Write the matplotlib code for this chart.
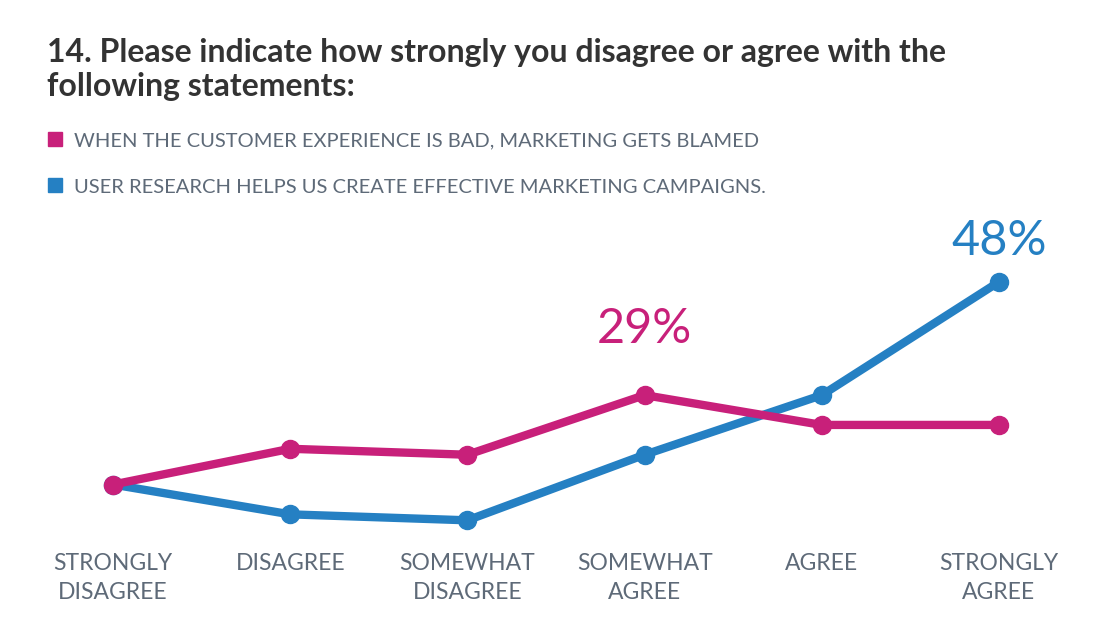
import matplotlib
matplotlib.use("Agg")
import matplotlib.pyplot as plt
from matplotlib.lines import Line2D

categories = ["STRONGLY\nDISAGREE", "DISAGREE", "SOMEWHAT\nDISAGREE",
              "SOMEWHAT\nAGREE", "AGREE", "STRONGLY\nAGREE"]
blamed = [14, 20, 19, 29, 24, 24]
research = [14, 9, 8, 19, 29, 48]
series_names = ["WHEN THE CUSTOMER EXPERIENCE IS BAD, MARKETING GETS BLAMED",
                "USER RESEARCH HELPS US CREATE EFFECTIVE MARKETING CAMPAIGNS."]

PINK = "#C8207A"
BLUE = "#2580C3"
GREY = "#5E6A78"
DARK = "#333333"

plt.rcParams["font.family"] = ["Lato", "DejaVu Sans"]

fig = plt.figure(figsize=(11.2, 6.34), dpi=100)
ax = fig.add_axes([113 / 1120, 66 / 634, 886 / 1120, 338 / 634])

x = list(range(len(categories)))
ax.plot(x, research, color=BLUE, lw=6, marker="o", ms=13, clip_on=False,
        solid_capstyle="round", zorder=3)
ax.plot(x, blamed, color=PINK, lw=6, marker="o", ms=13, clip_on=False,
        solid_capstyle="round", zorder=4)

ax.set_xlim(0, len(categories) - 1)
ax.set_ylim(0, 56.7)
ax.axis("off")

for i, lab in enumerate(categories):
    ax.annotate(lab, (i, 0), xytext=(0, 15), textcoords="offset pixels",
                ha="center", va="top", fontsize=16.5, color=GREY, linespacing=1.45)

# callouts on the highlighted points
i_pink = blamed.index(max(blamed))
i_blue = research.index(max(research))
ax.annotate(f"{blamed[i_pink]}%", (i_pink, blamed[i_pink]), xytext=(0, 52),
            textcoords="offset pixels", ha="center", va="baseline",
            fontsize=35, color=PINK)
ax.annotate(f"{research[i_blue]}%", (i_blue, research[i_blue]), xytext=(0, 27),
            textcoords="offset pixels", ha="center", va="baseline",
            fontsize=35, color=BLUE)

fig.text(47 / 1120, 1 - 96 / 634,
         "14. Please indicate how strongly you disagree or agree with the\nfollowing statements:",
         ha="left", va="baseline", fontsize=23, fontweight="bold", color=DARK,
         linespacing=1.22)

handles = [Line2D([], [], ls="none", marker="s", ms=9.5, color=c) for c in (PINK, BLUE)]
leg = fig.legend(handles, series_names, loc="upper left",
                 bbox_to_anchor=(30 / 1120, 1 - 114 / 634), frameon=False,
                 fontsize=14.5, labelcolor=GREY, handlelength=0.7,
                 handletextpad=0.6, labelspacing=1.45)

fig.savefig("out.png", dpi=100)
